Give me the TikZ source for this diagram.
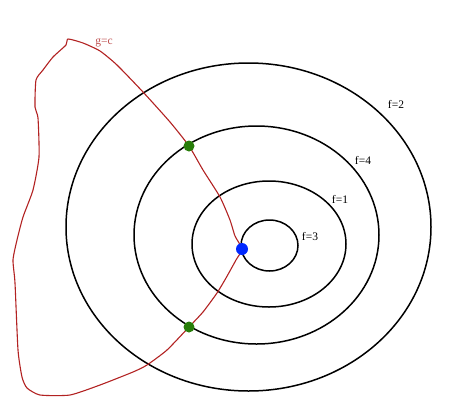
\documentclass[tikz,border=0pt]{standalone}
\usepackage{fontspec}
\setmainfont{Liberation Serif}
\begin{document}
\begin{tikzpicture}[x=1pt,y=-1pt,
  level/.style={draw=black,line width=1.5pt},
  curve/.style={draw={rgb,255:red,178;green,34;blue,34},line width=1.1pt,line join=round},
  lab/.style={font=\fontsize{11.5}{12}\selectfont,inner sep=0pt},
  gdot/.style={circle,fill={rgb,255:red,40;green,125;blue,10},minimum size=11pt,inner sep=0pt},
  bdot/.style={circle,fill={rgb,255:red,0;green,40;blue,255},minimum size=12pt,inner sep=0pt}]
\useasboundingbox (0,0) rectangle (474,413);
\path[level] (248.5,227) ellipse [x radius=182.5, y radius=164];
\path[level] (256.5,235) ellipse [x radius=122.5, y radius=109];
\path[level] (269,244) ellipse [x radius=77, y radius=63];
\path[level] (269.5,245.5) ellipse [x radius=28.5, y radius=25.5];
\path[curve] plot[smooth cycle,tension=0.35] coordinates {
 (242,249) (235,236) (230,220) (220,197) (203,170) (189,146) (170,122)
 (143,92) (117,65) (100,51) (83,43) (68,39) (66,45) (53,57) (43,70) (36,80)
 (35,107) (38,118) (39,157) (33,190) (23,217) (17,240) (13,260) (15,283)
 (18,350) (22,377) (27,388) (40,395) (70,395) (100,385) (133,372) (147,365)
 (167,350) (189,327) (203,312) (217,293) (226,278) (236,260)};
\node[gdot] (p1) at (189,146) {};
\node[gdot] (p2) at (189,327) {};
\node[bdot] (p3) at (242,249) {};
\node[lab] (l2) at (396,104) {f=2};
\node[lab] (l4) at (363,160) {f=4};
\node[lab] (l1) at (340,199) {f=1};
\node[lab] (l3) at (310,237) {f=3};
\node[lab,text={rgb,255:red,190;green,80;blue,80}] (lg) at (104,43) {g=c};
\end{tikzpicture}
\end{document}
